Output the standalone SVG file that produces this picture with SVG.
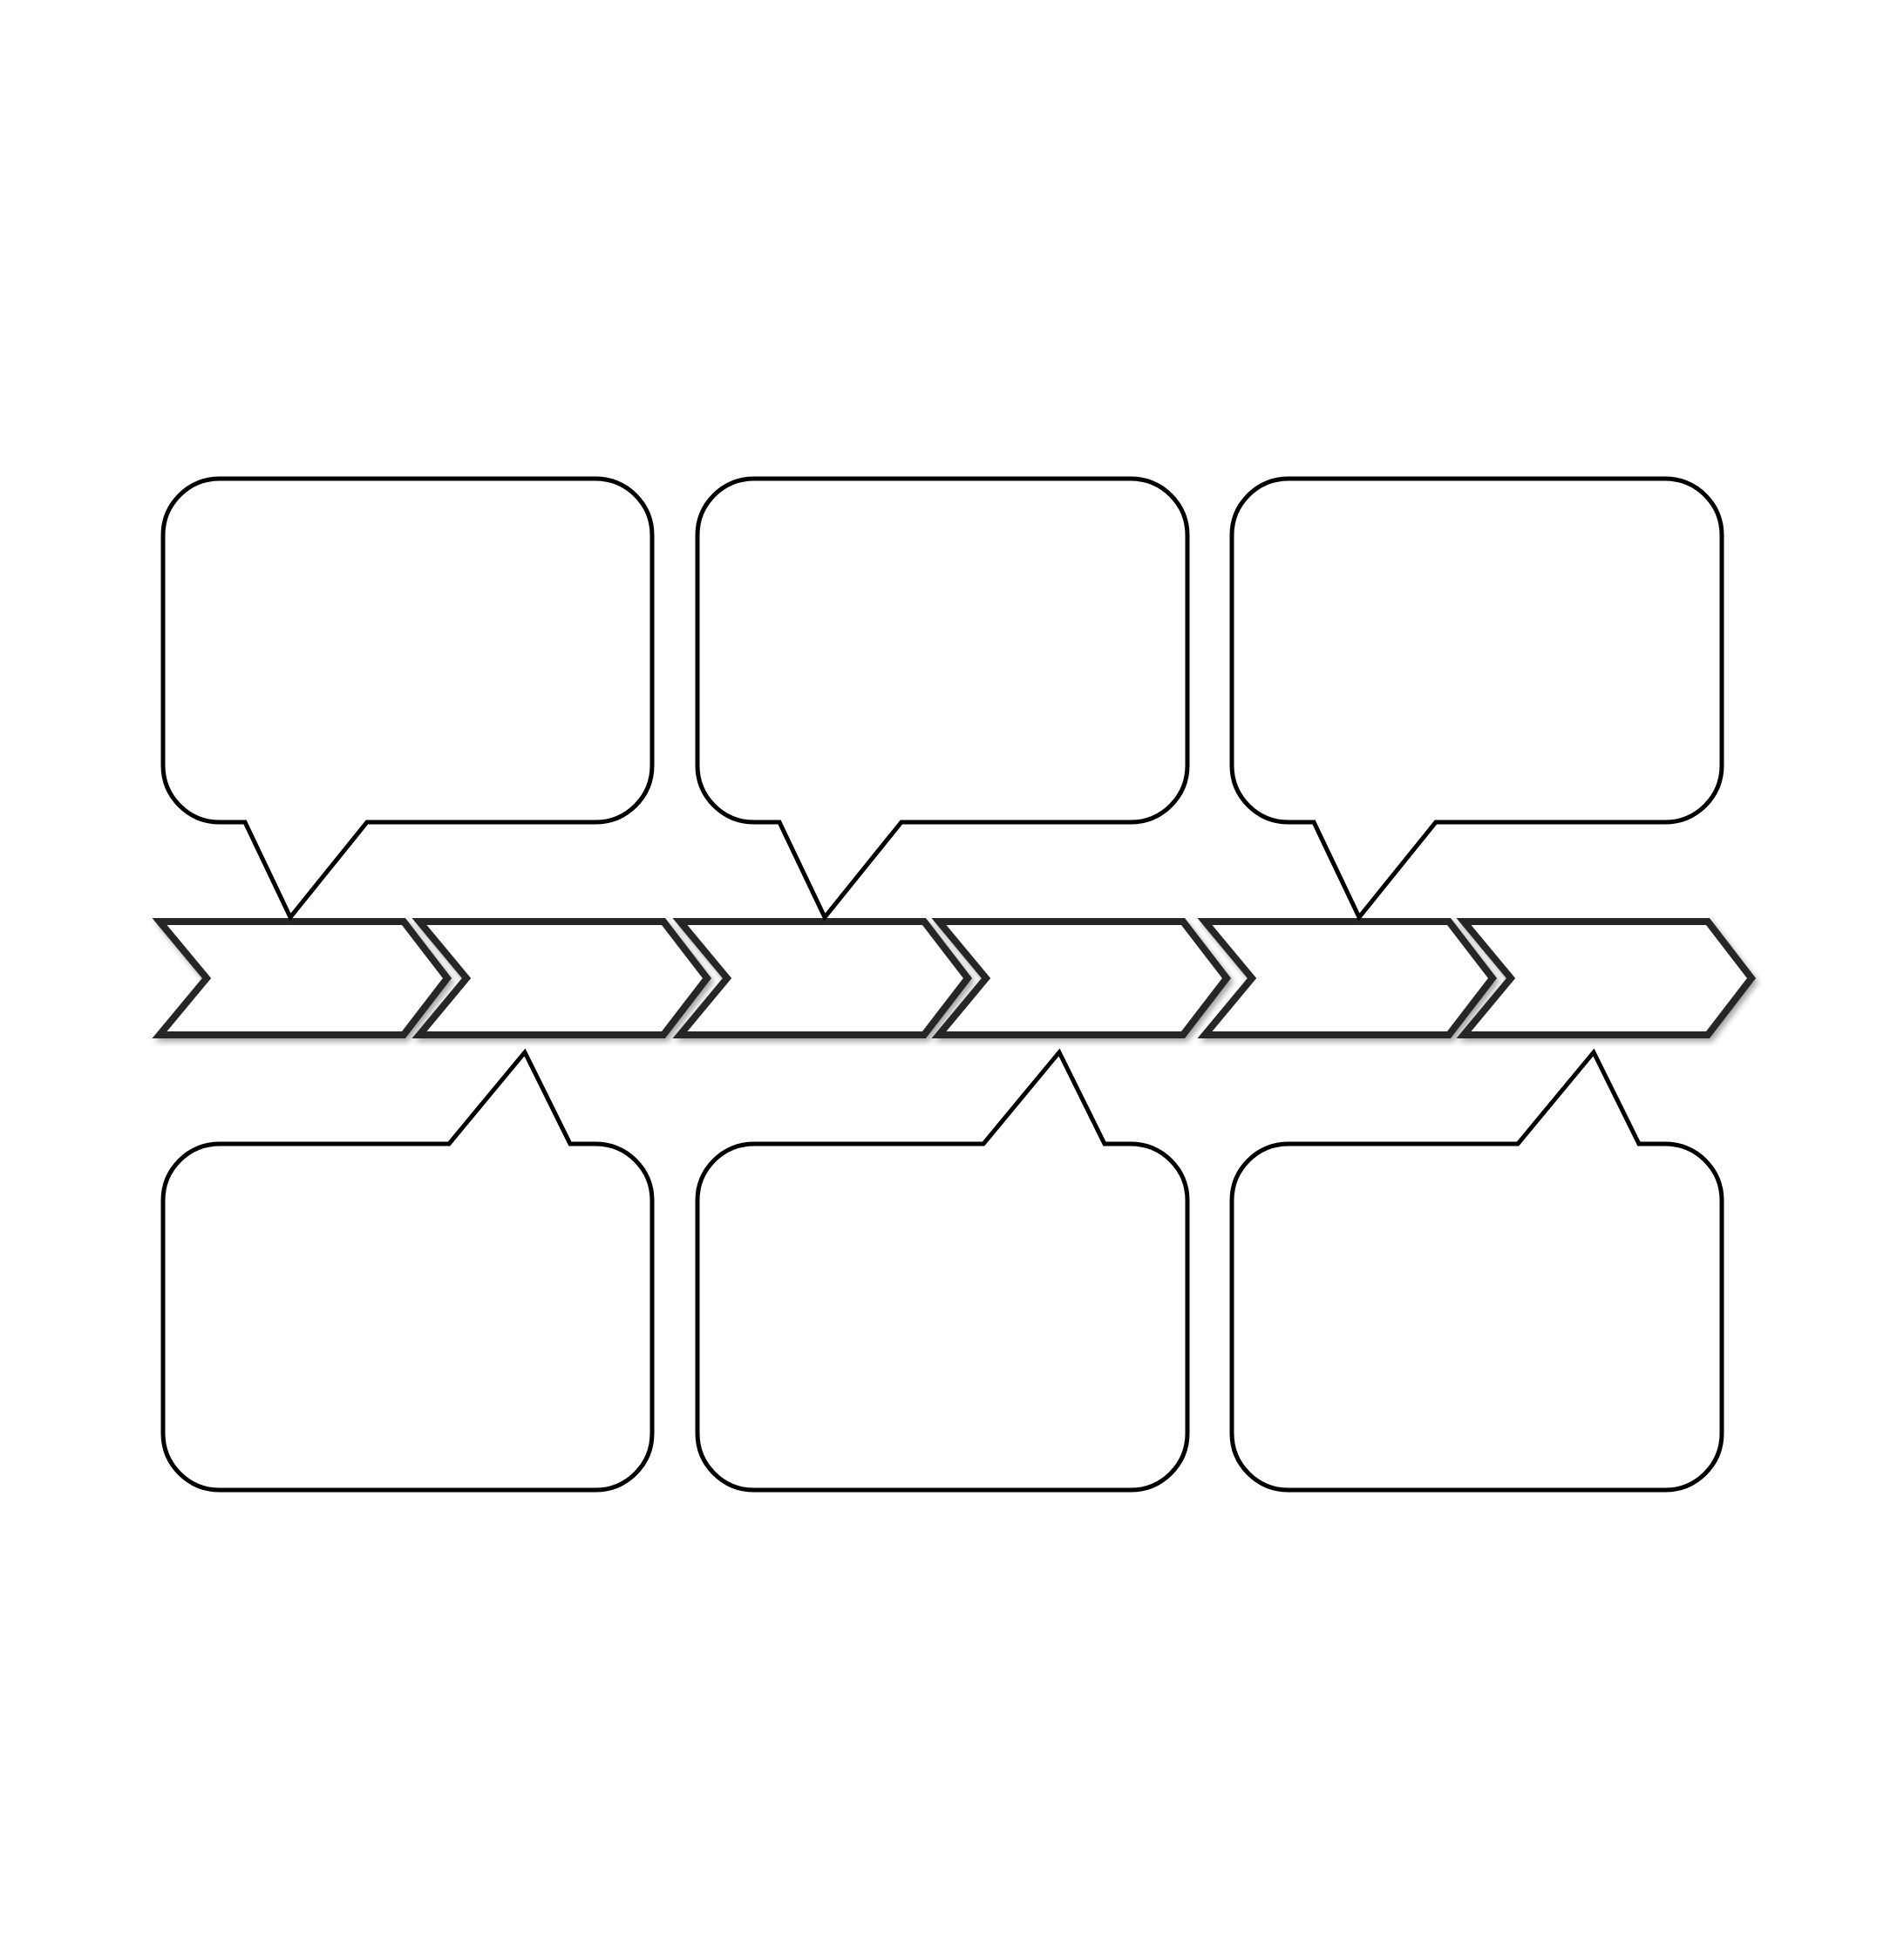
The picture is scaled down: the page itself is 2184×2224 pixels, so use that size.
<svg xmlns="http://www.w3.org/2000/svg" width="2184" height="2224" viewBox="0 0 2184 2224">
  <defs>
    <filter id="shadow" x="-10%" y="-20%" width="120%" height="150%">
      <feDropShadow dx="3" dy="4" stdDeviation="3" flood-color="#000" flood-opacity="0.35"/>
    </filter>
  </defs>
  <style>
    .chev { fill: #ffffff; stroke: #282828; stroke-width: 8; stroke-linejoin: miter; filter: url(#shadow); }
    .bubble { fill: #ffffff; stroke: #000000; stroke-width: 5; stroke-linejoin: miter; }
  </style>
  <rect x="0" y="0" width="2184" height="2224" fill="#ffffff"/>
  <g id="timeline">
    <g id="chevron1"><polygon class="chev" points="183,1057 463,1057 513,1122 463,1187 183,1187 237,1122"/></g>
    <g id="chevron2"><polygon class="chev" points="481,1057 761,1057 811,1122 761,1187 481,1187 535,1122"/></g>
    <g id="chevron3"><polygon class="chev" points="780,1057 1060,1057 1110,1122 1060,1187 780,1187 834,1122"/></g>
    <g id="chevron4"><polygon class="chev" points="1077,1057 1357,1057 1407,1122 1357,1187 1077,1187 1131,1122"/></g>
    <g id="chevron5"><polygon class="chev" points="1382,1057 1662,1057 1712,1122 1662,1187 1382,1187 1436,1122"/></g>
    <g id="chevron6"><polygon class="chev" points="1679,1057 1959,1057 2009,1122 1959,1187 1679,1187 1733,1122"/></g>
  </g>
  <g id="connectors"></g>
  <g id="bubble-top1"><path class="bubble" d="M252,549 H683 A65,65 0 0 1 748,614 V878 A65,65 0 0 1 683,943 H421 L333,1052 L281,943 H252 A65,65 0 0 1 187,878 V614 A65,65 0 0 1 252,549 Z"/></g>
  <g id="bubble-top2"><path class="bubble" d="M865,549 H1297 A65,65 0 0 1 1362,614 V878 A65,65 0 0 1 1297,943 H1034 L946,1052 L894,943 H865 A65,65 0 0 1 800,878 V614 A65,65 0 0 1 865,549 Z"/></g>
  <g id="bubble-top3"><path class="bubble" d="M1478,549 H1910 A65,65 0 0 1 1975,614 V878 A65,65 0 0 1 1910,943 H1647 L1559,1052 L1507,943 H1478 A65,65 0 0 1 1413,878 V614 A65,65 0 0 1 1478,549 Z"/></g>
  <g id="bubble-bottom1"><path class="bubble" d="M252,1312 H515 L602,1207 L654,1312 H683 A65,65 0 0 1 748,1377 V1644 A65,65 0 0 1 683,1709 H252 A65,65 0 0 1 187,1644 V1377 A65,65 0 0 1 252,1312 Z"/></g>
  <g id="bubble-bottom2"><path class="bubble" d="M865,1312 H1128 L1215,1207 L1267,1312 H1297 A65,65 0 0 1 1362,1377 V1644 A65,65 0 0 1 1297,1709 H865 A65,65 0 0 1 800,1644 V1377 A65,65 0 0 1 865,1312 Z"/></g>
  <g id="bubble-bottom3"><path class="bubble" d="M1478,1312 H1741 L1828,1207 L1880,1312 H1910 A65,65 0 0 1 1975,1377 V1644 A65,65 0 0 1 1910,1709 H1478 A65,65 0 0 1 1413,1644 V1377 A65,65 0 0 1 1478,1312 Z"/></g>
</svg>
